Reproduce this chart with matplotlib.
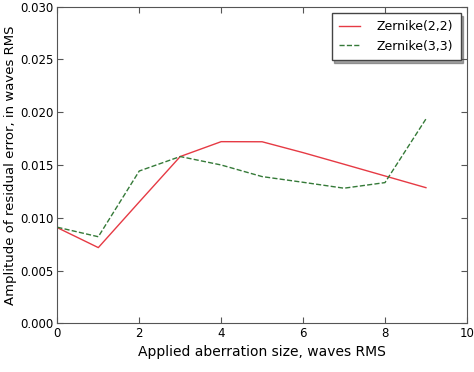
import numpy as np
import matplotlib
matplotlib.use("Agg")
import matplotlib.pyplot as plt

# applied aberration size (waves RMS)
aberration = [0, 1, 2, 3, 4, 5, 6, 7, 8, 9]

# residual error amplitude (waves RMS)
zernike_22 = [0.00906, 0.00717, 0.0115, 0.0158, 0.01721, 0.0172, 0.01617, 0.01507, 0.01396, 0.01285]
zernike_33 = [0.0091, 0.0082, 0.01443, 0.0158, 0.0150, 0.0139, 0.01336, 0.0128, 0.01333, 0.01936]

fig = plt.figure(figsize=(4.74, 3.72), dpi=100)
ax = fig.add_axes([0.121, 0.131, 0.864, 0.851])

ax.plot(aberration, zernike_22, color="#e63a44", lw=1.0, label="Zernike(2,2)")
ax.plot(aberration, zernike_33, color="#357a38", lw=1.0, ls="--", label="Zernike(3,3)")

ax.set_xlim(0, 10)
ax.set_ylim(0, 0.030)
ax.set_xticks(np.arange(0, 11, 2))
ax.set_yticks(np.arange(0, 0.0301, 0.005))
ax.yaxis.set_major_formatter(matplotlib.ticker.FormatStrFormatter("%.3f"))
ax.tick_params(direction="in", top=True, right=True, labelsize=8.5, length=4, pad=3, color="#555555")
for s in ax.spines.values():
    s.set_color("#555555")

ax.set_xlabel("Applied aberration size, waves RMS", fontsize=10, labelpad=3)
ax.set_ylabel("Amplitude of residual error, in waves RMS", fontsize=9.5, labelpad=2)

leg = ax.legend(loc="upper right", fontsize=9, fancybox=False, shadow=True, handlelength=1.7,
                borderpad=0.6, handletextpad=1.3)
leg.get_frame().set_edgecolor("#444444")

fig.savefig("out.png", dpi=100)
